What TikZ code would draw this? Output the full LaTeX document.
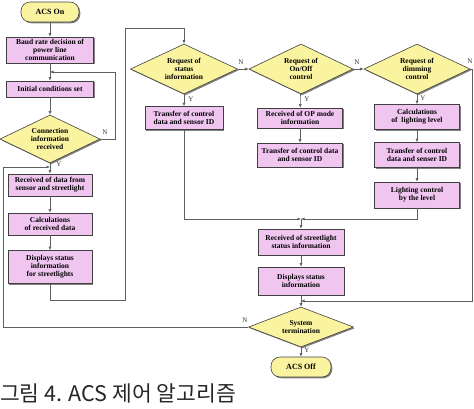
\documentclass[tikz,border=0pt]{standalone}
\usepackage{fontspec}
\setmainfont{Liberation Serif}
\newfontfamily\krfont{Noto Sans CJK KR}
\usetikzlibrary{shapes.geometric,shadows,arrows.meta}

\definecolor{boxpink}{RGB}{240,198,240}
\definecolor{dyellow}{RGB}{250,244,160}
\definecolor{edgegray}{RGB}{95,95,95}

\tikzset{
  base/.style={draw=black!75, line width=0.6pt, align=center, inner sep=0pt,
    font=\fontsize{7.5}{8.2}\selectfont\bfseries,
    drop shadow={shadow xshift=1.3pt, shadow yshift=-1.3pt, fill=black!70, opacity=0.7}},
  proc/.style={base, rectangle, fill=boxpink},
  dec/.style={base, diamond, aspect=2, fill=dyellow},
  term/.style={base, rectangle, rounded corners=9pt, fill=dyellow, minimum width=58pt, minimum height=20pt,
    font=\fontsize{8}{9}\selectfont\bfseries},
  flow/.style={draw=edgegray, line width=0.6pt, -{Latex[length=3.5pt,width=3pt]}},
  lbl/.style={font=\fontsize{7}{8}\selectfont, inner sep=0pt, text=black!80}
}

\begin{document}
\begin{tikzpicture}[x=1pt,y=-1pt]
\useasboundingbox (0,0) rectangle (474,408);

% left column
\node[term] (on) at (50,12) {ACS On};
\node[proc, minimum width=87pt, minimum height=26pt] (baud) at (50,50) {Baud rate decision of\\power line\\communication};
\node[proc, minimum width=87pt, minimum height=16pt] (init) at (50,89) {Initial conditions set};
\node[dec, minimum width=100pt, minimum height=48pt] (conn) at (50,139) {Connection\\information\\received};
\node[proc, minimum width=84pt, minimum height=22pt] (recv) at (50,185) {Received of data from\\sensor and streetlight};
\node[proc, minimum width=84pt, minimum height=22pt] (calc) at (50,224) {Calculations\\of received data};
\node[proc, minimum width=84pt, minimum height=33pt] (disp) at (50,267) {Displays status\\information\\for streetlights};

% request diamonds
\node[dec, minimum width=107pt, minimum height=50pt] (stat) at (184,69) {Request of\\status\\information};
\node[dec, minimum width=104pt, minimum height=50pt] (onoff) at (301,69) {Request of\\On/Off\\control};
\node[dec, minimum width=106pt, minimum height=50pt] (dim) at (417,69) {Request of\\dimming\\control};

% branch boxes
\node[proc, minimum width=78pt, minimum height=23pt] (tr1) at (184,118) {Transfer of control\\data and sensor ID};
\node[proc, minimum width=85pt, minimum height=20pt] (op) at (300,118) {Received of OP mode\\information};
\node[proc, minimum width=85pt, minimum height=24pt] (tr2) at (300,155) {Transfer of control data\\and sensor ID};
\node[proc, minimum width=85pt, minimum height=25pt] (lvl) at (417,117) {Calculations\\of\ \ lighting level};
\node[proc, minimum width=85pt, minimum height=25pt] (tr3) at (417,155) {Transfer of control\\data and senser ID};
\node[proc, minimum width=85pt, minimum height=26pt] (lc) at (417,195) {Lighting control\\by the level};

% bottom column
\node[proc, minimum width=86pt, minimum height=26pt] (rs) at (301,242) {Received of streetlight\\status information};
\node[proc, minimum width=86pt, minimum height=28pt] (ds) at (301,281) {Displays status\\information};
\node[dec, minimum width=105pt, minimum height=40pt] (sys) at (301,327) {System\\termination};
\node[term, minimum width=60pt] (off) at (301,367) {ACS Off};

% coordinates
\coordinate (j1) at (50,72);
\coordinate (nA) at (115,72);
\coordinate (j2) at (50,167);
\coordinate (lA) at (3,327);
\coordinate (lB) at (3,167);
\coordinate (d1) at (50,300);
\coordinate (d2) at (125,300);
\coordinate (d3) at (125,28);
\coordinate (d4) at (184,28);
\coordinate (m) at (301,219);
\coordinate (m1) at (184,219);
\coordinate (m2) at (417,219);
\coordinate (n1) at (472,69);
\coordinate (n2) at (472,301);
\coordinate (j3) at (301,301);

% connectors left
\draw[flow] (on) -- (baud);
\draw[flow] (baud) -- (init);
\draw[flow] (init) -- (conn);
\draw[flow] (conn) -- (recv);
\draw[flow] (recv) -- (calc);
\draw[flow] (calc) -- (disp);
\draw[flow] (conn.east) -| (nA) -- (j1);
\draw[flow] (sys.west) -- (lA) -- (lB) -- (j2);
\draw[flow] (disp.south) -- (d1) -- (d2) -- (d3) -- (d4) -- (stat.north);

% request chain
\draw[flow] (stat) -- (onoff);
\draw[flow] (onoff) -- (dim);
\draw[flow] (stat) -- (tr1);
\draw[flow] (onoff) -- (op);
\draw[flow] (op) -- (tr2);
\draw[flow] (dim) -- (lvl);
\draw[flow] (lvl) -- (tr3);
\draw[flow] (tr3) -- (lc);

% merge
\draw[flow] (tr1.south) -- (m1) -- (m);
\draw[flow] (lc.south) -- (m2) -- (m);
\draw[flow] (m) -- (rs.north);
\draw[flow] (rs) -- (ds);
\draw[flow] (ds) -- (sys);
\draw[flow] (dim.east) -- (n1) -- (n2) -- (j3);
\draw[flow] (sys) -- (off);

% labels
\node[lbl] (lN1) at (105,132) {N};
\node[lbl] (lY1) at (59,164) {Y};
\node[lbl] (lN2) at (241,62) {N};
\node[lbl] (lN3) at (357,62) {N};
\node[lbl] (lN4) at (470,61) {N};
\node[lbl] (lY2) at (191,99) {Y};
\node[lbl] (lY3) at (307,99) {Y};
\node[lbl] (lY4) at (423,98) {Y};
\node[lbl] (lN5) at (245,320) {N};
\node[lbl] (lY5) at (307,350) {Y};

% caption
\node[anchor=west, inner sep=0pt, text=black!85, font=\krfont\fontsize{21.5}{22}\selectfont] (cap) at (0,393) {그림 4. ACS 제어 알고리즘};
\end{tikzpicture}
\end{document}
